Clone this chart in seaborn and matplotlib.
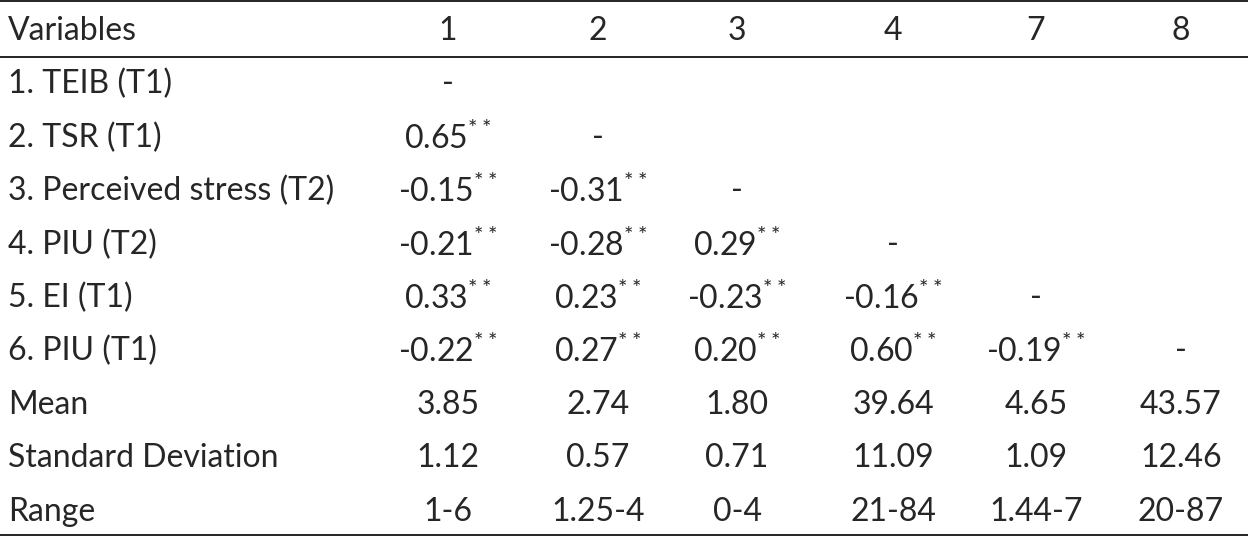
import seaborn as sns
import matplotlib.pyplot as plt

sns.set_theme(style="white")
plt.rcParams['font.family'] = ['Lato', 'DejaVu Sans']
plt.rcParams['mathtext.fontset'] = 'custom'
plt.rcParams['mathtext.rm'] = 'Lato'

col_labels = ["1", "2", "3", "4", "7", "8"]
row_labels = ["1. TEIB (T1)", "2. TSR (T1)", "3. Perceived stress (T2)", "4. PIU (T2)",
              "5. EI (T1)", "6. PIU (T1)"]
correlations = [
    [],
    [0.65],
    [-0.15, -0.31],
    [-0.21, -0.28, 0.29],
    [0.33, 0.23, -0.23, -0.16],
    [-0.22, 0.27, 0.20, 0.60, -0.19],
]
stat_labels = ["Mean", "Standard Deviation", "Range"]
means = ["3.85", "2.74", "1.80", "39.64", "4.65", "43.57"]
sds = ["1.12", "0.57", "0.71", "11.09", "1.09", "12.46"]
ranges = ["1-6", "1.25-4", "0-4", "21-84", "1.44-7", "20-87"]

fig = plt.figure(figsize=(12.48, 5.41), dpi=100)
ax = fig.add_axes([0, 0, 1, 1])
ax.set_xlim(0, 1248)
ax.set_ylim(541, 0)
ax.axis("off")

col_x = [448, 598, 737, 893, 1036, 1181]
row_y = [31 + 53.4 * i for i in range(10)]
fs = 23

ax.text(8, row_y[0], "Variables", fontsize=fs, va="center", ha="left")
for x, c in zip(col_x, col_labels):
    ax.text(x, row_y[0], c, fontsize=fs, va="center", ha="center")

for i, (lab, vals) in enumerate(zip(row_labels, correlations)):
    y = row_y[i + 1]
    ax.text(8, y, lab, fontsize=fs, va="center", ha="left")
    for j, v in enumerate(vals):
        ax.text(col_x[j], y, f"{v:.2f}" + r"$^{**}$", fontsize=fs, va="center", ha="center")
    ax.text(col_x[len(vals)], y, "-", fontsize=fs, va="center", ha="center")

for k, (lab, vals) in enumerate(zip(stat_labels, [means, sds, ranges])):
    y = row_y[7 + k]
    ax.text(8, y, lab, fontsize=fs, va="center", ha="left")
    for x, v in zip(col_x, vals):
        ax.text(x, y, v, fontsize=fs, va="center", ha="center")

for y in [1, 57, 535]:
    ax.plot([0, 1248], [y, y], color="black", lw=1.2)

fig.savefig("out.png", dpi=100)
